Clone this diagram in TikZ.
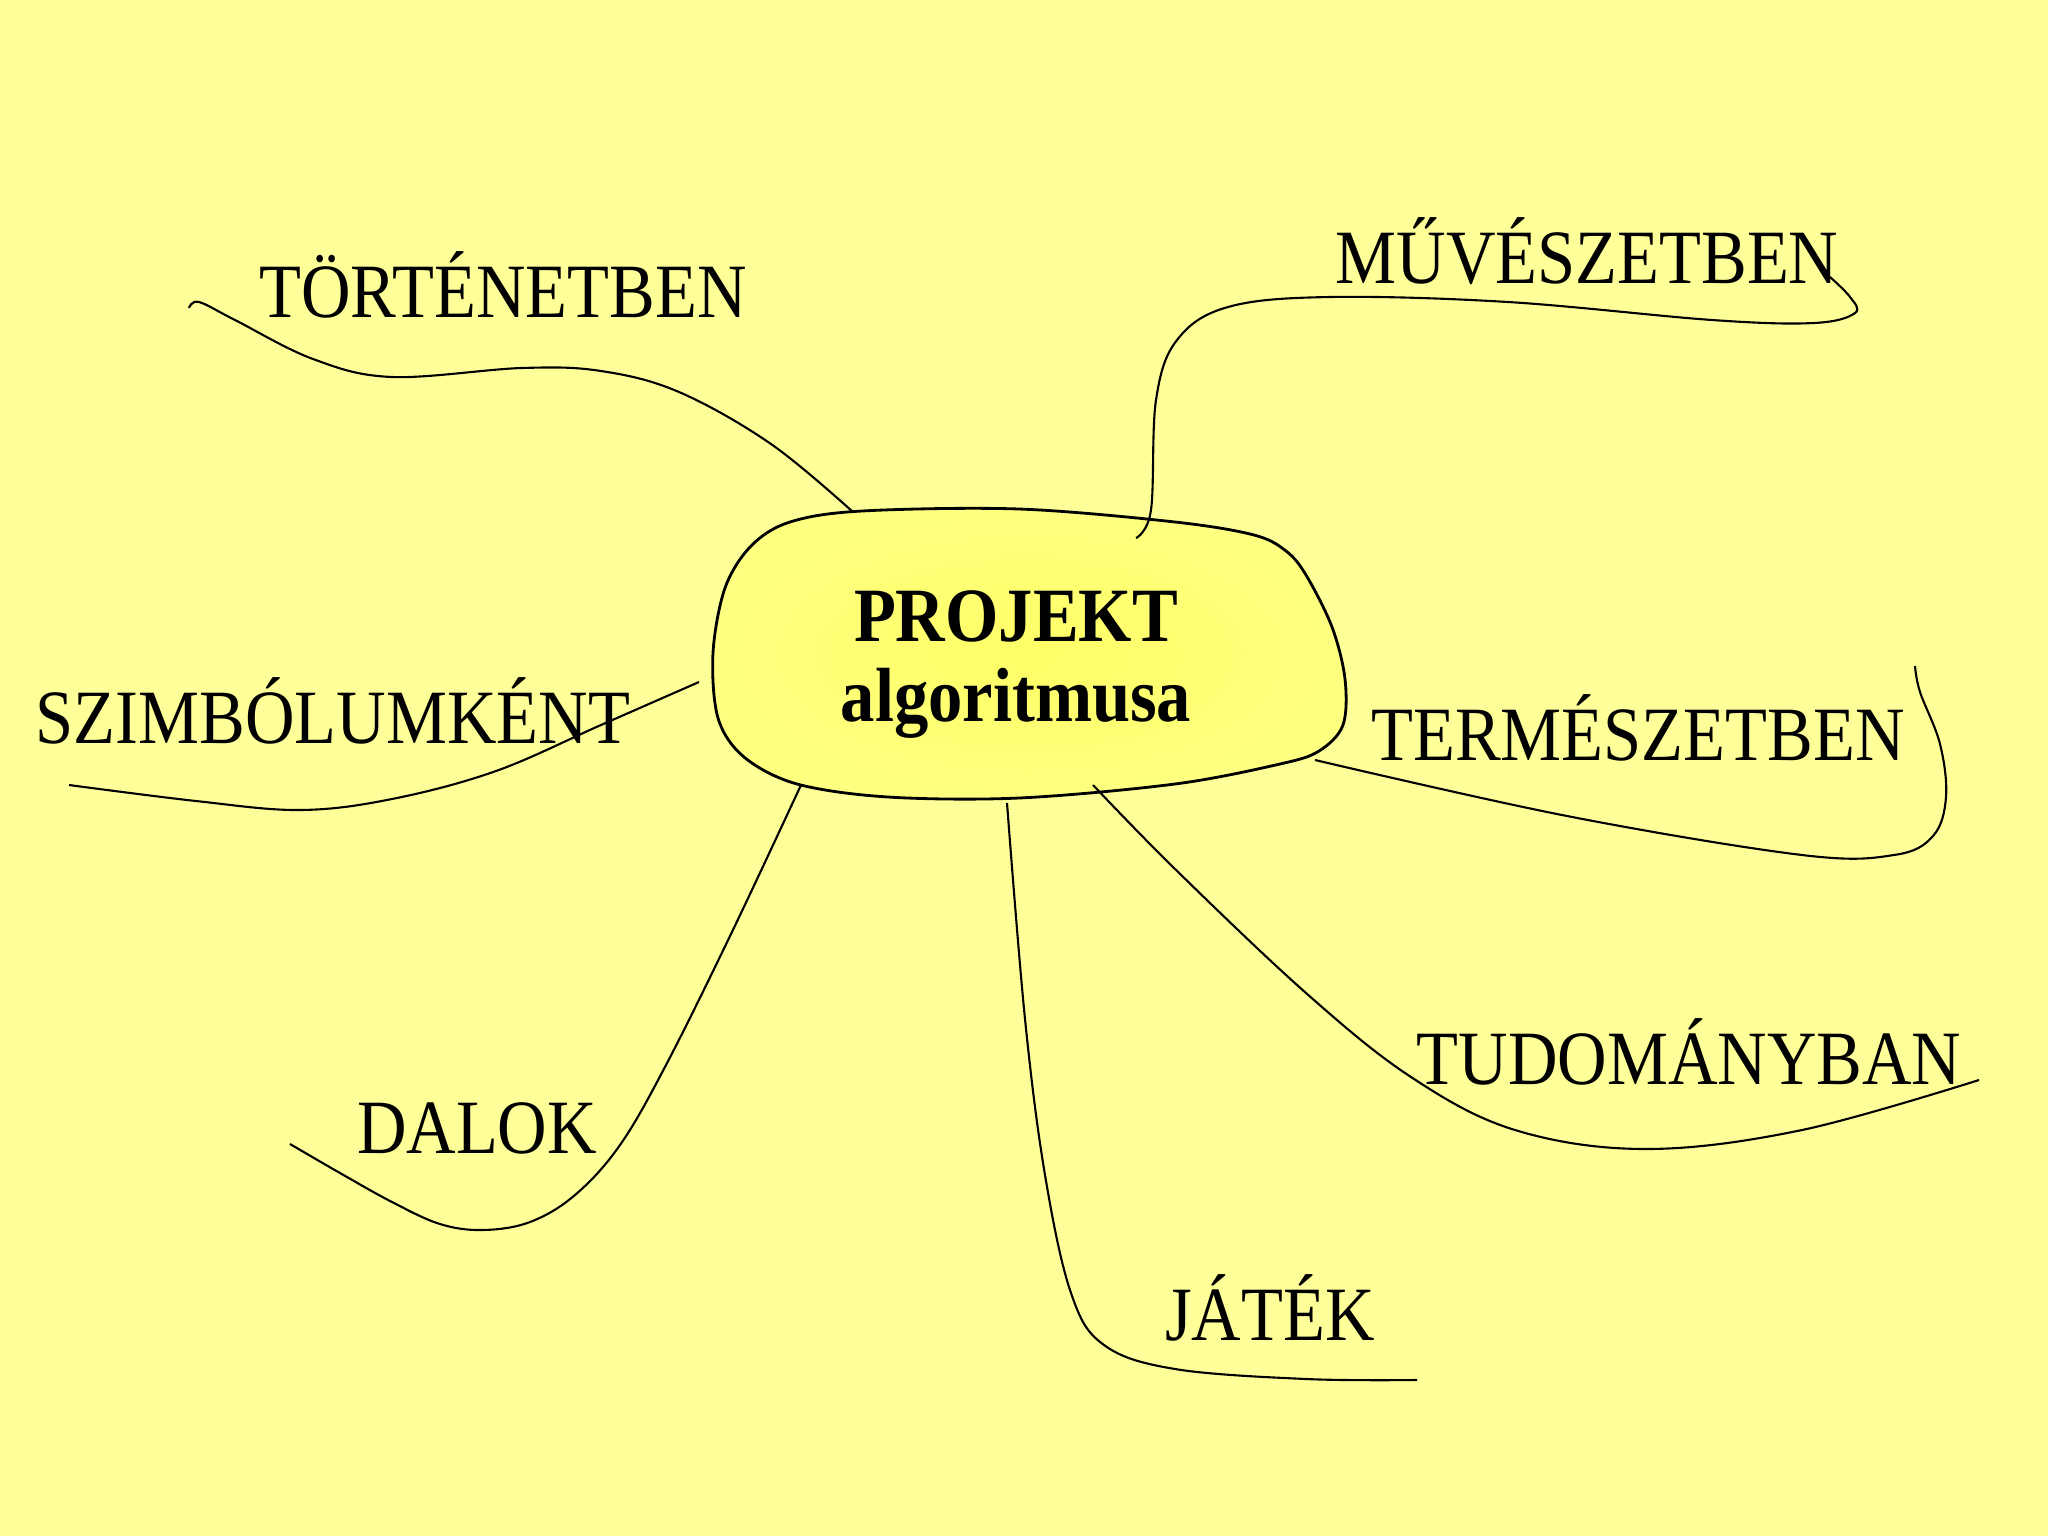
\documentclass[tikz,border=0pt]{standalone}
\usepackage{fontspec}
\setmainfont{Liberation Serif}
\usepackage{xcolor}
\definecolor{bgyellow}{HTML}{FFFF99}
\definecolor{blobin}{HTML}{FFFF66}
\definecolor{blobout}{HTML}{FFFF80}
\newcommand{\tallt}[1]{\scalebox{1}[1.12]{#1}}

\begin{document}
\begin{tikzpicture}[x=0.01cm,y=-0.01cm,
	lbl/.style={anchor=base,inner sep=0pt,font=\fontsize{19.5}{22}\selectfont},
	branch/.style={line width=0.6pt},
	blob/.style={draw,line width=0.8pt,inner color=blobin,outer color=blobout}]
	\fill[bgyellow] (0,0) rectangle (2048,1536);
	\draw[blob] plot[smooth cycle,tension=0.55] coordinates {(713,653) (725,588) (751,546) (790,522) (862,511) (1019,509) (1175,522) (1254,535) (1286,551) (1306,575) (1332,627) (1345,679) (1343,725) (1319,751) (1280,764) (1175,784) (1019,798) (888,797) (797,784) (744,757) (718,718)};
	\node (proj) [lbl,font=\fontsize{19.5}{22}\selectfont\bfseries] at (1016,641) {\tallt{PROJEKT}};
	\node (alg) [lbl,font=\fontsize{19.5}{22}\selectfont\bfseries] at (1016,721) {\tallt{algoritmusa}};
	\node (tort) [lbl] at (503,317) {\tallt{TÖRTÉNETBEN}};
	\node (muv) [lbl] at (1587,283) {\tallt{MŰVÉSZETBEN}};
	\node (szimb) [lbl] at (333,743) {\tallt{SZIMBÓLUMKÉNT}};
	\node (term) [lbl] at (1638,760) {\tallt{TERMÉSZETBEN}};
	\node (tud) [lbl] at (1689,1084) {\tallt{TUDOMÁNYBAN}};
	\node (dal) [lbl] at (477,1153) {\tallt{DALOK}};
	\node (jat) [lbl] at (1270,1340) {\tallt{JÁTÉK}};
	\coordinate (tort0) at (853,512);
	\coordinate (tort1) at (189,308);
	\coordinate (muv0) at (1136,538);
	\coordinate (muv1) at (1830,277);
	\coordinate (szimb0) at (699,682);
	\coordinate (szimb1) at (69,785);
	\coordinate (term0) at (1315,760);
	\coordinate (term1) at (1915,666);
	\coordinate (tud0) at (1093,785);
	\coordinate (tud1) at (1979,1080);
	\coordinate (jat0) at (1007,803);
	\coordinate (jat1) at (1417,1380);
	\coordinate (dal0) at (801,785);
	\coordinate (dal1) at (290,1144);
	\draw[branch] plot[smooth,tension=0.6] coordinates {(tort0) (771,444) (679,392) (601,371) (522,368) (392,377) (313,359) (235,320) (199,302) (tort1)};
	\draw[branch] plot[smooth,tension=0.6] coordinates {(muv0) (1151,510) (1156,400) (1177,340) (1228,307) (1330,297) (1508,302) (1712,320) (1814,323) (1855,313) (1850,297) (muv1)};
	\draw[branch] plot[smooth,tension=0.6] coordinates {(szimb0) (601,725) (496,771) (392,799) (300,810) (196,801) (szimb1)};
	\draw[branch] plot[smooth,tension=0.6] coordinates {(term0) (1567,816) (1802,855) (1894,855) (1933,836) (1946,797) (1940,744) (1920,692) (term1)};
	\draw[branch] plot[smooth,tension=0.6] coordinates {(tud0) (1175,869) (1306,993) (1411,1077) (1515,1130) (1646,1149) (1802,1130) (tud1)};
	\draw[branch] plot[smooth,tension=0.6] coordinates {(jat0) (1025,1019) (1045,1175) (1071,1293) (1104,1345) (1175,1369) (1306,1379) (jat1)};
	\draw[branch] plot[smooth,tension=0.6] coordinates {(dal0) (731,934) (666,1065) (620,1145) (575,1195) (530,1222) (483,1230) (440,1224) (392,1202) (340,1173) (dal1)};
\end{tikzpicture}
\end{document}
